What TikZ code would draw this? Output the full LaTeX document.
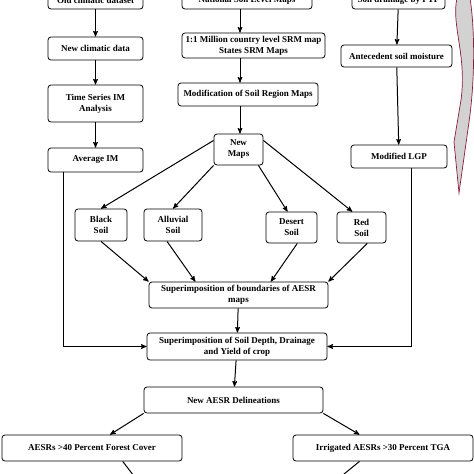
\documentclass[tikz,border=0pt]{standalone}
\usepackage{fontspec}
\setmainfont{Liberation Serif}
\usetikzlibrary{arrows}
\usetikzlibrary{calc}
\usetikzlibrary{positioning}

\definecolor{swoosh}{RGB}{139,26,58}

\begin{document}
\begin{tikzpicture}[x=1pt,y=-1pt,
  box/.style={draw,rectangle,rounded corners=3pt,line width=0.8pt,align=center,inner sep=1pt,
    font=\fontsize{9}{11}\selectfont\bfseries},
  flow/.style={draw,line width=1pt,->,>=stealth'},
  flowedges/.style={every edge/.style={flow}}]

  \clip (0,0) rectangle (474,474);

  % left column: moisture index
  \node [box,minimum width=95pt,minimum height=18pt] (clim0) at (95.5,0) {Old climatic dataset};
  \node [box,minimum width=95pt,minimum height=23pt] (clim1) at (95.5,48.5) {New climatic data};
  \node [box,minimum width=95pt,minimum height=37pt] (imseries) at (95.5,103.5) {Time Series IM\\Analysis};
  \node [box,minimum width=95pt,minimum height=24pt] (avgim) at (95.5,160) {Average IM};

  % middle column: soil maps
  \coordinate (midx) at (240,0);
  \node [box,minimum width=130pt,minimum height=18pt] (srm0) at (247,0) {National Soil Level Maps};
  \node [box,minimum width=143pt,minimum height=25pt] (srm1) at (253.5,45.5) {1:1 Million country level SRM map\\States SRM Maps};
  \node [box,minimum width=140pt,minimum height=23pt] (modsrm) at (248,94.5) {Modification of Soil Region Maps};
  \node [box,minimum width=49pt,minimum height=31pt] (newmaps) at (238.5,149.5) {New\\Maps};

  \node [box,minimum width=52pt,minimum height=32pt] (black) at (101,225) {Black\\Soil};
  \node [box,minimum width=58pt,minimum height=32pt] (alluvial) at (173,225) {Alluvial\\Soil};
  \node [box,minimum width=51pt,minimum height=31pt] (desert) at (291.5,227.5) {Desert\\Soil};
  \node [box,minimum width=49pt,minimum height=31pt] (red) at (361.5,227.5) {Red\\Soil};

  \node [box,minimum width=179pt,minimum height=26pt] (bound) at (238.5,295) {Superimposition of boundaries of AESR\\maps};
  \node [box,minimum width=180pt,minimum height=27pt] (depth) at (237,346.5) {Superimposition of Soil Depth, Drainage\\and Yield of crop};
  \node [box,minimum width=179pt,minimum height=26pt] (aesr) at (233.5,400) {New AESR Delineations};
  \node [box,minimum width=180pt,minimum height=26pt] (forest) at (92,448) {AESRs >40 Percent Forest Cover};
  \node [box,minimum width=180pt,minimum height=26pt] (irrig) at (383,448) {Irrigated AESRs >30 Percent TGA};

  % right column: growing period
  \node [box,minimum width=93pt,minimum height=18pt] (ptf0) at (398.5,0) {Soil drainage by PTF};
  \node [box,minimum width=111pt,minimum height=22pt] (ptf1) at (396.5,56) {Antecedent soil moisture};
  \node [box,minimum width=96pt,minimum height=23pt] (lgp) at (399,156.5) {Modified LGP};

  \coordinate (forestout) at (140,484);
  \coordinate (irrigout) at (333,483);

  \path [flowedges]
    (clim0) edge (clim1)
    (clim1) edge (imseries)
    (imseries) edge (avgim);

  \path [flowedges]
    (srm0.south -| midx) edge (srm1.north -| midx)
    (srm1.south -| midx) edge (modsrm.north -| midx)
    (modsrm.south -| midx) edge (newmaps.north -| midx);

  \path [flowedges]
    (ptf0) edge (ptf1)
    (ptf1) edge (lgp);

  \path [flowedges]
    (newmaps.160) edge (black.north)
    (newmaps.south west) edge (alluvial.north)
    ([xshift=-5pt]newmaps.south east) edge ([xshift=-4pt]desert.north)
    (newmaps.20) edge (red.120);

  \path [flowedges]
    (black.south) edge (bound.north west)
    (alluvial.250) edge ($(bound.north west)!0.26!(bound.north east)$)
    (desert.290) edge ($(bound.north west)!0.68!(bound.north east)$)
    (red.290) edge (bound.north east);

  \path [flowedges]
    (bound) edge (depth)
    (depth) edge (aesr);

  \draw [flow] ([xshift=-32.5pt]avgim.south) |- (depth.west);
  \draw [flow] ([xshift=12pt]lgp.south) |- (depth.east);

  \path [flowedges]
    (aesr.south west) edge ($(forest.north west)!0.6!(forest.north east)$)
    (aesr.south east) edge ($(irrig.north west)!0.37!(irrig.north east)$);

  \path [flowedges]
    ($(forest.south west)!0.67!(forest.south east)$) edge (forestout)
    ($(irrig.south west)!0.37!(irrig.south east)$) edge (irrigout);

  % hand drawn swoosh on the right
  \draw [fill=gray!35,draw=swoosh,line width=0.7pt]
    (457,-2) .. controls (451,25) and (467,55) .. (461,100) -- (454,142) -- (459,193)
    -- (469,122) .. controls (475,80) and (475,30) .. (470,-2);

\end{tikzpicture}
\end{document}
